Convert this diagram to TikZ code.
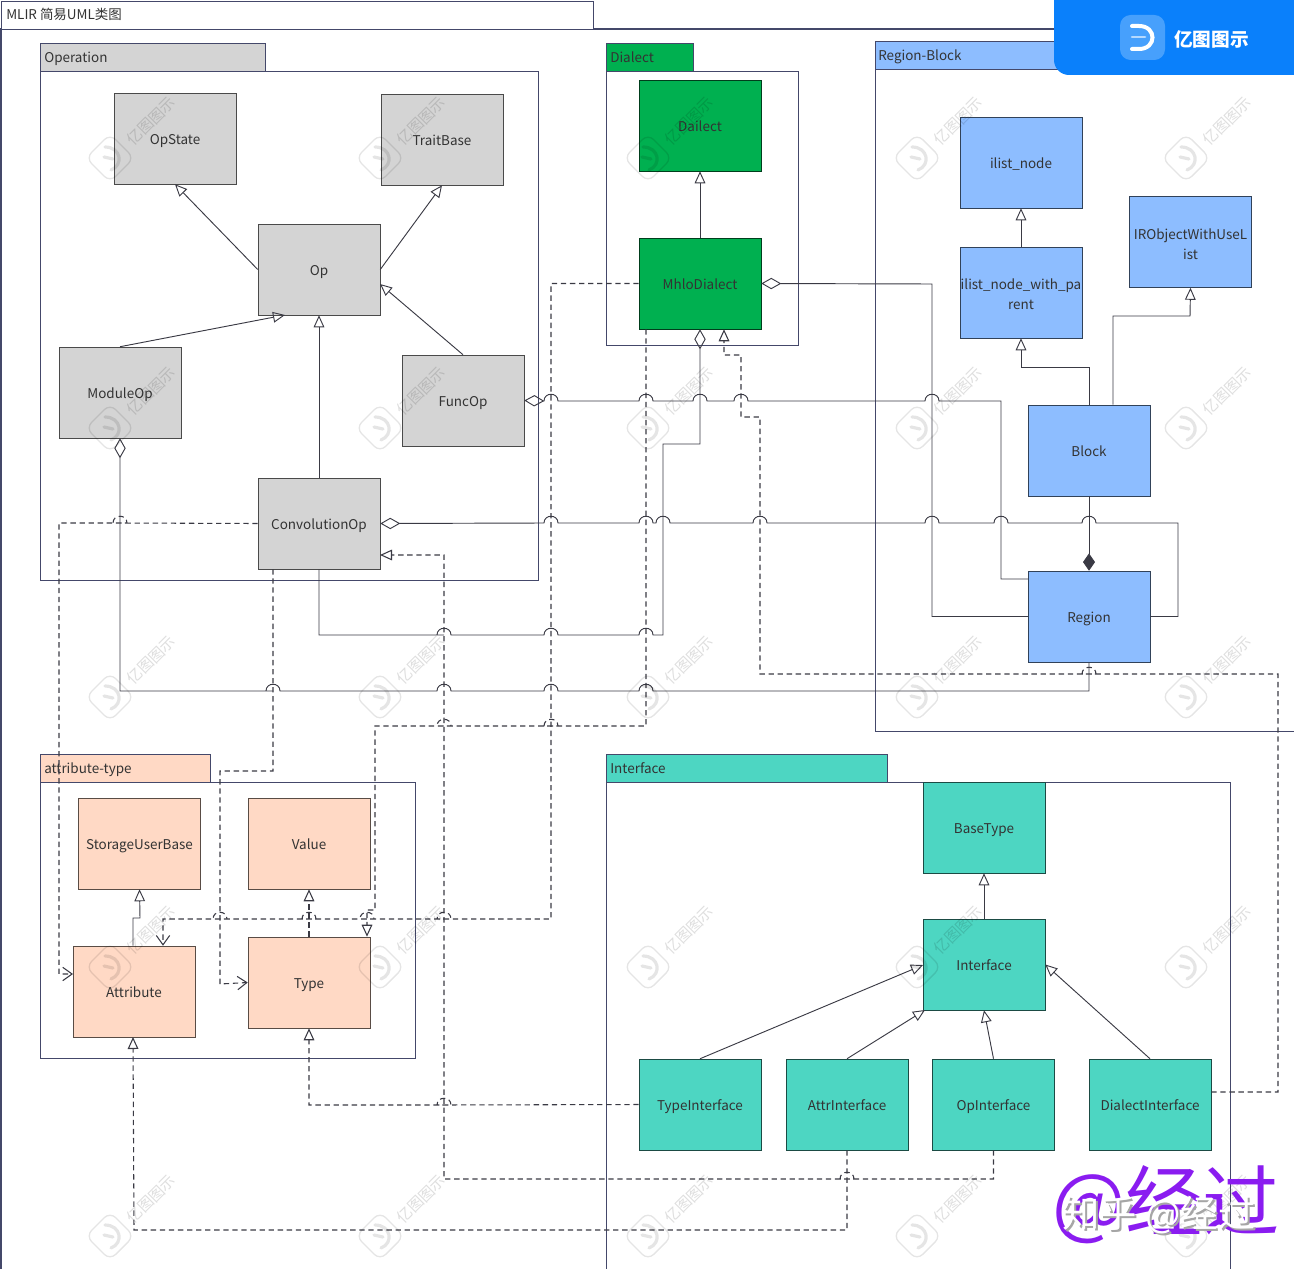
\documentclass[tikz,border=0pt]{standalone}
\usepackage{fontspec}
\setmainfont{Noto Sans CJK SC}
\usetikzlibrary{arrows.meta, positioning, calc}
\definecolor{LineDark}{HTML}{3A3A44}
\definecolor{FrameBlue}{HTML}{44486A}
\definecolor{OpGray}{HTML}{D4D4D4}
\definecolor{DialectGreen}{HTML}{00B050}
\definecolor{RegionBlue}{HTML}{8DBDFF}
\definecolor{AttrPeach}{HTML}{FFD9C5}
\definecolor{IfaceTeal}{HTML}{4DD6C2}
\definecolor{BrandBlue}{HTML}{0A80FB}
\definecolor{SignPurple}{HTML}{8A1CF0}
\tikzset{
  classbox/.style={draw=#1!35!black, fill=#1, minimum width=91.5pt, minimum height=68.25pt,
                   inner sep=0pt, align=center, font=\fontsize{10.1}{15}\selectfont, text=black!80,
                   text height=11pt, text depth=1.5pt},
  twoline/.style={text height=26.5pt, text depth=0.25pt},
  framebody/.style={draw=FrameBlue, line width=0.6pt},
  frametab/.style n args={2}{draw=FrameBlue, line width=0.6pt, fill=#2, anchor=north west, inner sep=0pt,
                   minimum height=21pt, minimum width=#1},
  tablabel/.style={anchor=base west, inner sep=0pt, font=\fontsize{10.1}{12}\selectfont, text=black!80},
  link/.style={draw=LineDark, line width=0.7pt},
  inherit/.style={link, -{Triangle[open, length=9pt, width=8pt]}},
  realize/.style={inherit, line width=0.8pt, dash pattern=on 4pt off 2.8pt},
  uselink/.style={link, line width=0.8pt, dash pattern=on 4pt off 2.8pt, -{Straight Barb[length=7pt, width=10pt]}},
  holds/.style={link, {Diamond[open, length=15pt, width=8.5pt]}-},
  holdsend/.style={link, -{Diamond[open, length=15pt, width=8.5pt]}},
  composed/.style={link, -{Diamond[length=13pt, width=9pt]}},
  markfont/.style={font=\fontsize{11.5}{12}\selectfont, text=black, opacity=0.13, rotate=45, inner sep=0pt},
  markline/.style={black, opacity=0.1, line cap=round},
}
\newcommand{\hopx}[2]{-- (#1-7,#2) .. controls (#1-7,#2-9) and (#1+7,#2-9) .. (#1+7,#2)}
\begin{document}
\begin{tikzpicture}[x=0.75pt, y=-0.75pt]
\useasboundingbox (0,0) rectangle (1294,1269);
\draw[FrameBlue, line width=0.8pt] (1,1269) -- (1,29) -- (1294,29);
\node[frametab={444pt}{white}] (titletab) at (1,1) {};
\node[tablabel] (titletext) at (6,20) {MLIR 简易UML类图};

\node[frametab={168.75pt}{OpGray}] (optab) at (40,43) {};
\node[tablabel] (optext) at (44,63) {Operation};
\draw[framebody] (40,71) rectangle (538,580);
\node[frametab={65.25pt}{DialectGreen}] (dialecttab) at (606,43) {};
\node[tablabel] (dialecttext) at (610,63) {Dialect};
\draw[framebody] (606,71) rectangle (798,345);
\node[frametab={150pt}{RegionBlue}] (regiontab) at (875,41) {};
\node[tablabel] (regiontext) at (878,61) {Region-Block};
\draw[framebody] (1294,69) -- (875,69) -- (875,731) -- (1294,731);
\node[frametab={127.5pt}{AttrPeach}] (attrtab) at (40,754) {};
\node[tablabel] (attrtext) at (44,773.5) {attribute-type};
\draw[framebody] (40,782) rectangle (415,1058);
\node[frametab={210.75pt}{IfaceTeal}] (ifacetab) at (606,754) {};
\node[tablabel] (ifacetext) at (610,773.5) {Interface};
\draw[framebody] (606,1269) -- (606,782) -- (1230,782) -- (1230,1269);

\node[classbox=OpGray] (opstate) at (175,138.5) {OpState};
\node[classbox=OpGray] (traitbase) at (442,139.5) {TraitBase};
\node[classbox=OpGray] (op) at (319,269.5) {Op};
\node[classbox=OpGray] (moduleop) at (120,392.5) {ModuleOp};
\node[classbox=OpGray] (funcop) at (463,400.5) {FuncOp};
\node[classbox=OpGray] (convop) at (319,523.5) {ConvolutionOp};
\node[classbox=DialectGreen] (dailect) at (700,125.5) {Dailect};
\node[classbox=DialectGreen] (mhlo) at (700,283.5) {MhloDialect};
\node[classbox=RegionBlue] (ilist) at (1021,162.5) {ilist\_node};
\node[classbox=RegionBlue, twoline] (ilistparent) at (1021,292.5) {ilist\_node\_with\_pa\\rent};
\node[classbox=RegionBlue, twoline] (irobject) at (1190.5,242) {IRObjectWithUseL\\ist};
\node[classbox=RegionBlue] (block) at (1089,450.5) {Block};
\node[classbox=RegionBlue] (region) at (1089,616.5) {Region};
\node[classbox=AttrPeach] (storage) at (139.5,843.5) {StorageUserBase};
\node[classbox=AttrPeach] (value) at (309,843.5) {Value};
\node[classbox=AttrPeach] (attribute) at (134,991.5) {Attribute};
\node[classbox=AttrPeach] (type) at (309,982.5) {Type};
\node[classbox=IfaceTeal] (basetype) at (984,827.5) {BaseType};
\node[classbox=IfaceTeal] (interface) at (984,964.5) {Interface};
\node[classbox=IfaceTeal] (typeiface) at (700,1104.5) {TypeInterface};
\node[classbox=IfaceTeal] (attriface) at (847,1104.5) {AttrInterface};
\node[classbox=IfaceTeal] (opiface) at (993.5,1104.5) {OpInterface};
\node[classbox=IfaceTeal] (dialectiface) at (1150,1104.5) {DialectInterface};

\draw[inherit] (op.west) -- (opstate.south);
\draw[inherit] (op.east) -- (traitbase.south);
\draw[inherit] (moduleop.north) -- (285,315);
\draw[inherit] (funcop.north) -- (380,284);
\draw[inherit] (convop.north) -- (op.south);
\draw[inherit] (mhlo.north) -- (dailect.south);
\draw[inherit] (ilistparent.north) -- (ilist.south);
\draw[inherit] (block.north) |- (1021,367) -- (ilistparent.south);
\draw[inherit] (1113,0 |- block.north) |- (1190,316) -- (irobject.south);
\draw[composed] (block.south) -- (region.north);
\draw[inherit] (133,0 |- attribute.north) |- (140,918) -- (storage.south);
\draw[inherit] (interface.north) -- (basetype.south);
\draw[inherit] (typeiface.north) -- (923,965);
\draw[inherit] (attriface.north) -- (925,1010);
\draw[inherit] (opiface.north) -- (interface.south);
\draw[inherit] (dialectiface.north) -- (interface.east);

\draw[holds] (funcop.east) \hopx{551}{401} \hopx{646}{401} \hopx{700}{401} \hopx{741}{401} \hopx{932}{401} -- (1001,401) |- (1028,579);
\draw[holds] (mhlo.east) -- (932,284) |- (region.west);
\draw[holds] (convop.east) \hopx{551}{523} \hopx{646}{523} \hopx{663}{523} \hopx{760}{523} \hopx{932}{523} \hopx{1001}{523} \hopx{1089}{523} -- (1178,523) |- (region.east);
\draw[holdsend] (convop.south) |- (444,635) \hopx{444}{635} \hopx{551}{635} \hopx{646}{635} -- (663,635) |- (700,444) -- (mhlo.south);
\draw[holds] (moduleop.south) |- (273,691) \hopx{273}{691} \hopx{444}{691} \hopx{551}{691} \hopx{646}{691} -| (region.south);

\draw[uselink] (convop.west) \hopx{120}{523} -- (59,523) |- (73,974);
\draw[uselink] (273,0 |- convop.south) -- (273,771) -| (220,984) -- (type.west);
\draw[uselink] (mhlo.west) -| (551,919) \hopx{444}{919} \hopx{367}{919} \hopx{309}{919} \hopx{220}{919} -| (163,0 |- attribute.north);
\draw[realize] (646,0 |- mhlo.south) |- (551,726) \hopx{551}{726} \hopx{444}{726} -- (375,726) |- (367,910) -- (367,0 |- type.north);
\draw[realize] (type.north) -- (value.south);
\draw[realize] (dialectiface.east |- 0,1092) -| (1278,674) \hopx{1089}{674} -- (760,674) |- (741,417) |- (724,355) -- (724,0 |- mhlo.south);
\draw[realize] (typeiface.west) \hopx{444}{1105} -| (type.south);
\draw[realize] (opiface.south) |- (847,1179) \hopx{847}{1179} -- (444,1179) |- (380,555);
\draw[realize] (attriface.south) |- (attribute.south |- 0,1230) -- (133,1037);

\foreach \gx in {110,380,648,917,1186}
  \foreach \gy in {158,428,697,967,1236} {
    \draw[markline, line width=1pt, rounded corners=6pt, rotate around={45:(\gx,\gy)}]
      (\gx-17,\gy-17) rectangle (\gx+17,\gy+17);
    \draw[markline, line width=2.4pt] (\gx-5,\gy-11) .. controls (\gx+11,\gy-11) and (\gx+14,\gy+7) .. (\gx+1,\gy+12);
    \draw[markline, line width=2.4pt] (\gx-6,\gy-1) -- (\gx+3,\gy+1);
    \node[markfont] at (\gx+41,\gy-37) {亿图图示};
  }

\fill[BrandBlue] (1054,0) -- (1054,60) arc[start angle=180, end angle=270, x radius=15, y radius=-15] -- (1294,75) -- (1294,0) -- cycle;
\fill[white!25!BrandBlue, rounded corners=8pt] (1120,15) rectangle (1165,60);
\draw[white, line width=3pt, line cap=round] (1132,26) -- (1139,26) .. controls (1157,26) and (1157,49) .. (1139,49) -- (1132,49);
\draw[white!70!BrandBlue, line width=2pt, line cap=round] (1132,37) -- (1145,37);
\node[anchor=west, inner sep=0pt, text=white, font=\fontsize{14}{16}\selectfont\bfseries] (brandtext) at (1174,39) {亿图图示};

\node[anchor=center, inner sep=0pt, text=SignPurple, font=\fontsize{58}{60}\selectfont] (signtext) at (1166,1205) {@经过};
\node[anchor=center, inner sep=0pt, text=black!35, font=\fontsize{28}{30}\selectfont] (zhihushadow) at (1161,1217) {知乎 @经过};
\node[anchor=center, inner sep=0pt, text=white, font=\fontsize{28}{30}\selectfont] (zhihutext) at (1159,1215) {知乎 @经过};
\end{tikzpicture}
\end{document}
